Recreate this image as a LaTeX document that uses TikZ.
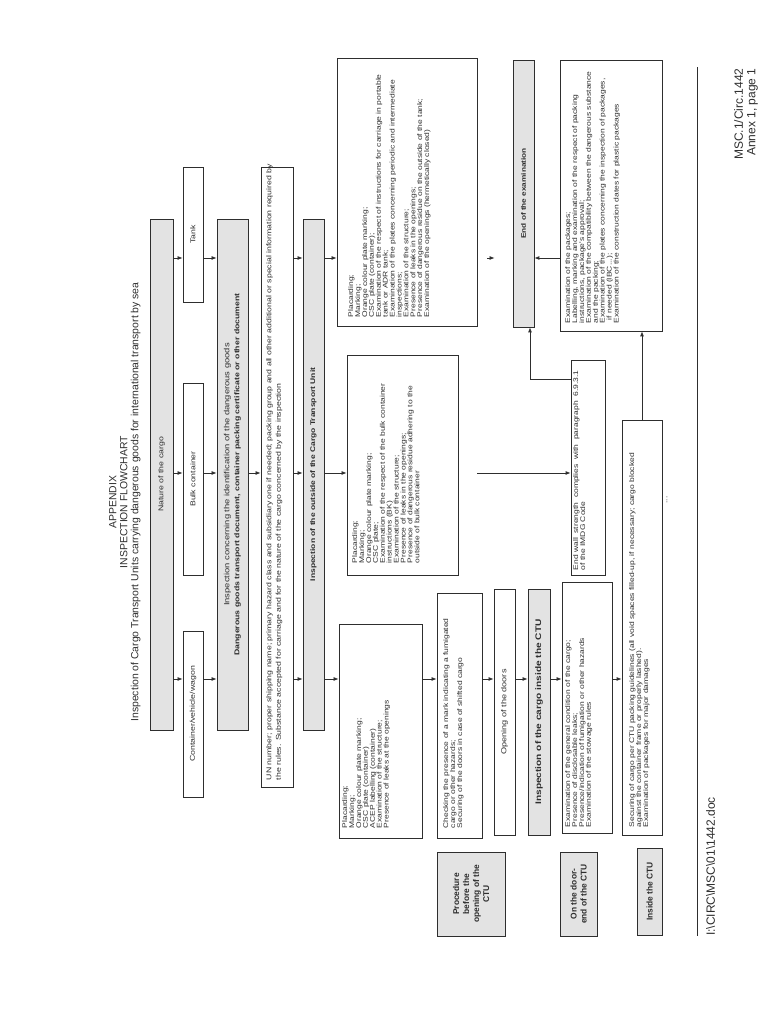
\documentclass[tikz,border=0pt]{standalone}
\usepackage{fontspec}
\setmainfont{Liberation Sans}
\newfontfamily\boxfont[FakeStretch=1.25]{Liberation Sans}
\usetikzlibrary{arrows.meta,positioning}

\definecolor{boxgray}{HTML}{E3E3E3}
\definecolor{inkgray}{HTML}{2E2E2E}

\tikzset{
  wbox/.style={draw=inkgray, line width=0.8pt, fill=white, inner sep=0pt, text=inkgray,
    font=\boxfont\fontsize{7}{8}\selectfont},
  gbox/.style={wbox, fill=boxgray},
  lbl/.style={gbox, align=center, font=\bfseries\fontsize{8.4}{10}\selectfont},
  txt/.style={inner sep=0pt, align=left, text=inkgray, font=\boxfont\fontsize{6.8}{6.9}\selectfont},
  arr/.style={draw=inkgray, line width=0.8pt, -{Latex[length=5pt,width=4pt]}},
}

\begin{document}
\begin{tikzpicture}[x=1pt, y=1pt, rotate=90, transform shape]
    \useasboundingbox (0,0) rectangle (1024,768);

    % Rows of the arrows
    \coordinate (rowA) at (766,0);
    \coordinate (rowB) at (551,0);
    \coordinate (rowC) at (345,0);

    % Title
    \node[align=center, text=inkgray, font=\fontsize{10.4}{11}\selectfont] (title) at (522,643)
        {APPENDIX\\INSPECTION FLOWCHART\\Inspection of Cargo Transport Units carrying dangerous goods for international transport by sea};

    % Nature of the cargo
    \node[gbox, minimum width=511pt, minimum height=23pt] (nat) at (549.5,606.5) {Nature of the cargo};
    \node[wbox, minimum width=135pt, minimum height=20pt] (tank) at (789.5,575) {Tank};
    \node[wbox, minimum width=192pt, minimum height=20pt] (bulk) at (545,575) {Bulk container};
    \node[wbox, minimum width=166pt, minimum height=20pt] (cont) at (310,575) {Container/vehicle/wagon};

    % Documents
    \node[gbox, align=center, minimum width=511pt, minimum height=31pt, font=\boxfont\fontsize{7.5}{10}\selectfont] (ident) at (549.5,535.5)
        {Inspection concerning the identification of the dangerous goods\\
         \textbf{\fontsize{7}{10}\selectfont Dangerous goods transport document, container packing certificate or other document}};
    \node[wbox, minimum width=620pt, minimum height=32pt] (unbox) at (547,491) {};
    \node[txt, font=\boxfont\fontsize{7}{9.5}\selectfont, below right=5.5pt and 7pt of unbox.north west] (untxt)
        {UN number; proper shipping name; primary hazard class and subsidiary one if needed; packing group and all other additional or special information required by\\
         the rules. Substance accepted for carriage and for the nature of the cargo concerned by the inspection};

    % Outside of the CTU
    \node[gbox, minimum width=511pt, minimum height=21pt, font=\boxfont\bfseries\fontsize{6.8}{8}\selectfont] (outside) at (549.5,454.5)
        {Inspection of the outside of the Cargo Transport Unit};

    \node[wbox, minimum width=268pt, minimum height=140pt] (tankdet) at (832,361) {};
    \node[txt, below right=11.5pt and 9pt of tankdet.north west] (tanktxt)
        {Placarding;\\Marking;\\Orange colour plate marking;\\CSC plate (container);\\
         Examination of the respect of instructions for carriage in portable\\tank or ADR tank;\\
         Examination of the plates concerning periodic and intermediate\\inspections;\\
         Examination of the structure;\\Presence of leaks in the openings;\\
         Presence of dangerous residue on the outside of the tank;\\
         Examination of the openings (hermetically closed)};

    \node[wbox, minimum width=220pt, minimum height=111pt] (bulkdet) at (559,365.5) {};
    \node[txt, below right=5.5pt and 12pt of bulkdet.north west] (bulktxt)
        {Placarding;\\Marking;\\Orange colour plate marking;\\CSC plate;\\
         Examination of the respect of the bulk container\\instructions (BK)\\
         Examination of the structure;\\Presence of leaks in the openings;\\
         Presence of dangerous residue adhering to the\\outside of bulk container};

    \node[wbox, minimum width=214pt, minimum height=83pt] (contdet) at (293,387.5) {};
    \node[txt, below right=3.5pt and 10pt of contdet.north west] (conttxt)
        {Placarding;\\Marking;\\Orange colour plate marking;\\CSC plate (container)\\
         ACEP labelling (container)\\Examination of the structure;\\Presence of leaks at the openings};

    % Door-end and inside
    \node[wbox, minimum width=245pt, minimum height=45pt] (check) at (308.5,308.5) {};
    \node[txt, below right=6.5pt and 10pt of check.north west] (checktxt)
        {Checking the presence of a mark indicating a fumigated\\cargo or other hazards;\\
         Securing of the doors in case of shifted cargo};

    \node[wbox, minimum width=246pt, minimum height=21pt, font=\boxfont\fontsize{7.3}{8}\selectfont] (doors) at (312,263.5) {Opening of the doors};
    \node[gbox, minimum width=246pt, minimum height=22pt, font=\boxfont\bfseries\fontsize{8.1}{9}\selectfont] (inside) at (312,229)
        {Inspection of the cargo inside the CTU};

    \node[wbox, minimum width=251pt, minimum height=50pt] (general) at (316.5,181) {};
    \node[txt, below right=3.5pt and 6pt of general.north west] (gentxt)
        {Examination of the general condition of the cargo;\\Presence of disclosable leaks;\\
         Presence/indication of fumigation or other hazards\\Examination of the stowage rules};

    \node[wbox, minimum width=415pt, minimum height=40pt] (securing) at (396.5,126) {};
    \node[txt, below right=7.5pt and 8pt of securing.north west] (sectxt)
        {Securing of cargo per CTU packing guidelines (all void spaces filled-up, if necessary; cargo blocked\\
         against the container frame or properly lashed).\\Examination of packages for major damages};
    \node[txt] (dots) at (524,101) {...};

    \node[wbox, minimum width=271pt, minimum height=102pt] (packages) at (828.5,157) {};
    \node[txt, below right=5.5pt and 8pt of packages.north west] (packtxt)
        {Examination of the packages;\\
         Labelling, marking and examination of the respect of packing\\instructions, package's approval;\\
         Examination of the compatibility between the dangerous substance\\and the packing;\\
         Examination of the plates concerning the inspection of packages,\\
         \hspace*{3pt}if needed (IBC...);\\
         Examination of the construction dates for plastic packages};

    \node[wbox, minimum width=215pt, minimum height=34pt] (endwall) at (556.5,180) {};
    \node[txt, font=\boxfont\fontsize{6.8}{7}\selectfont, below right=2.5pt and 5pt of endwall.north west] (walltxt)
        {End wall \ strength \ complies \ with \ paragraph \ 6.9.3.1\\of the IMDG Code};

    \node[gbox, minimum width=267pt, minimum height=21pt, font=\boxfont\bfseries\fontsize{6.6}{8}\selectfont] (endex) at (830.5,244.5)
        {End of the examination};

    % Stage labels
    \node[lbl, minimum width=84pt, minimum height=68pt] (proc) at (130,297) {Procedure\\before the\\opening of the\\CTU};
    \node[lbl, minimum width=84pt, minimum height=37pt] (doorend) at (130,189.5) {On the door-\\end of the CTU};
    \node[lbl, minimum width=87pt, minimum height=25pt] (insidelbl) at (132.5,118.5) {Inside the CTU};

    % Arrows, row A
    \draw[arr] (nat.south -| rowA) -- (tank.north -| rowA);
    \draw[arr] (tank.south -| rowA) -- (ident.north -| rowA);
    \draw[arr] (unbox.south -| rowA) -- (outside.north -| rowA);
    \draw[arr] (outside.south -| rowA) -- (tankdet.north -| rowA);
    \draw[arr, shorten <=10pt, shorten >=18pt] (tankdet.south -| rowA) -- (endex.north -| rowA);
    \draw[arr] (packages.north -| rowA) -- (endex.south -| rowA);

    % Arrows, row B
    \draw[arr] (nat.south -| rowB) -- (bulk.north -| rowB);
    \draw[arr] (bulk.south -| rowB) -- (ident.north -| rowB);
    \draw[arr] (ident.south -| rowB) -- (unbox.north -| rowB);
    \draw[arr] (unbox.south -| rowB) -- (outside.north -| rowB);
    \draw[arr] (outside.south -| rowB) -- (bulkdet.north -| rowB);
    \draw[arr, shorten <=19pt] (bulkdet.south -| rowB) -- (endwall.north -| rowB);

    % Arrows, row C
    \draw[arr] (nat.south -| rowC) -- (cont.north -| rowC);
    \draw[arr] (cont.south -| rowC) -- (ident.north -| rowC);
    \draw[arr] (unbox.south -| rowC) -- (outside.north -| rowC);
    \draw[arr] (outside.south -| rowC) -- (contdet.north -| rowC);
    \draw[arr] (contdet.south -| rowC) -- (check.north -| rowC);
    \draw[arr] (check.south -| rowC) -- (doors.north -| rowC);
    \draw[arr] (doors.south -| rowC) -- (inside.north -| rowC);
    \draw[arr] (inside.south -| rowC) -- (general.north -| rowC);
    \draw[arr] (general.south -| rowC) -- (securing.north -| rowC);

    % Back to the end of the examination
    \draw[arr] (securing.east) -- (securing.east -| packages.west);
    \coordinate (bend) at (645,238);
    \draw[arr] (endwall.north -| bend) -- (bend) -- (endex.west |- bend);

    % Page rule, header and footer
    \draw[inkgray, line width=0.8pt] (88,71) -- (957,71);
    \node[anchor=north west, text=inkgray, font=\fontsize{12}{13}\selectfont, inner sep=0pt] (footer) at (88,62)
        {I:\textbackslash CIRC\textbackslash MSC\textbackslash 01\textbackslash 1442.doc};
    \node[anchor=east, align=right, text=inkgray, font=\fontsize{12}{12.5}\selectfont] (header) at (959,22)
        {MSC.1/Circ.1442\\Annex 1, page 1};
\end{tikzpicture}
\end{document}
